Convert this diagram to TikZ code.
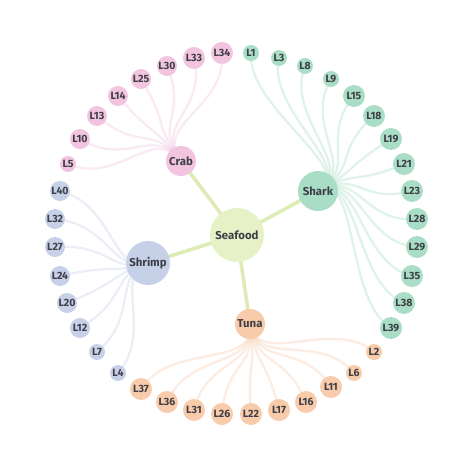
\documentclass[tikz,border=0pt]{standalone}
\usepackage{fontspec}
\setmainfont{Fira Sans}
\usetikzlibrary{calc}
\definecolor{cSea}{HTML}{E6F2C6}
\definecolor{cCrab}{HTML}{F2C4DF}
\definecolor{cShark}{HTML}{A9DDC6}
\definecolor{cShrimp}{HTML}{C6D1E8}
\definecolor{cTuna}{HTML}{F8CBAA}
\definecolor{cEdge}{HTML}{DDEBB4}
\definecolor{txt}{HTML}{3E3E46}
\tikzset{
  nd/.style={circle,inner sep=0pt,text=txt,font=\bfseries\fontsize{6}{7}\selectfont},
  hub/.style={nd,font=\bfseries\fontsize{6.5}{7}\selectfont},
  lk/.style={line width=1.3pt,opacity=0.35},
  hk/.style={line width=2pt,draw=cEdge},
}
\newcommand{\leaf}[5]{\node[nd,fill=#4,minimum size=#5*0.04cm] (#1) at (#2,#3) {#1};}
\begin{document}
\begin{tikzpicture}[x=0.02cm,y=-0.02cm]
\useasboundingbox (0,0) rectangle (474,471);
\fill[white] (0,0) rectangle (474,471);
\coordinate (C) at (237,235);
\coordinate (pCrab) at (181,161);
\coordinate (pShark) at (318,191);
\coordinate (pShrimp) at (148,263);
\coordinate (pTuna) at (250,324);
% edges center
\draw[hk] (C) -- (pCrab); \draw[hk] (C) -- (pShark);
\draw[hk] (C) -- (pShrimp); \draw[hk] (C) -- (pTuna);
% leaves
\foreach \n/\x/\y/\r in {L1/251/53/8,L3/279/58/8,L8/305/66/8,L9/331/79/8,L15/354/96/11,L18/374/116/11,L19/391/139/11,L21/404/164/11,L23/412/191/11,L28/417/219/11,L29/417/247/11,L35/412/276/11,L38/404/303/11,L39/391/328/11}{
  \draw[lk,draw=cShark] (pShark) .. controls ($(C)!1.5!(pShark)$) and ($(C)!0.7!(\x,\y)$) .. (\x,\y);
  \leaf{\n}{\x}{\y}{cShark}{\r}}
\foreach \n/\x/\y/\r in {L2/374/352/8,L6/354/373/8,L11/331/387/11,L16/306/402/11,L17/279/410/11,L22/251/414/11,L26/222/414/11,L31/194/410/11,L36/167/402/11,L37/141/389/11}{
  \draw[lk,draw=cTuna] (pTuna) .. controls ($(C)!1.5!(pTuna)$) and ($(C)!0.7!(\x,\y)$) .. (\x,\y);
  \leaf{\n}{\x}{\y}{cTuna}{\r}}
\foreach \n/\x/\y/\r in {L4/118/373/8,L7/97/352/8,L12/80/328/10,L20/67/303/10,L24/60/276/10,L27/55/247/10,L32/55/219/10,L40/60/191/10}{
  \draw[lk,draw=cShrimp] (pShrimp) .. controls ($(C)!1.4!(pShrimp)$) and ($(C)!0.7!(\x,\y)$) .. (\x,\y);
  \leaf{\n}{\x}{\y}{cShrimp}{\r}}
\foreach \n/\x/\y/\r in {L5/68/164/8,L10/80/139/10,L13/97/116/10,L14/118/96/10,L25/141/79/10,L30/167/66/10,L33/194/58/11,L34/222/53/11}{
  \draw[lk,draw=cCrab] (pCrab) .. controls ($(C)!1.5!(pCrab)$) and ($(C)!0.7!(\x,\y)$) .. (\x,\y);
  \leaf{\n}{\x}{\y}{cCrab}{\r}}
% hubs
\node[hub,fill=cSea,minimum size=54*0.02cm] (Seafood) at (C) {Seafood};
\node[hub,fill=cCrab,minimum size=30*0.02cm] (Crab) at (pCrab) {Crab};
\node[hub,fill=cShark,minimum size=40*0.02cm] (Shark) at (pShark) {Shark};
\node[hub,fill=cShrimp,minimum size=44*0.02cm] (Shrimp) at (pShrimp) {Shrimp};
\node[hub,fill=cTuna,minimum size=30*0.02cm] (Tuna) at (pTuna) {Tuna};
\end{tikzpicture}
\end{document}
